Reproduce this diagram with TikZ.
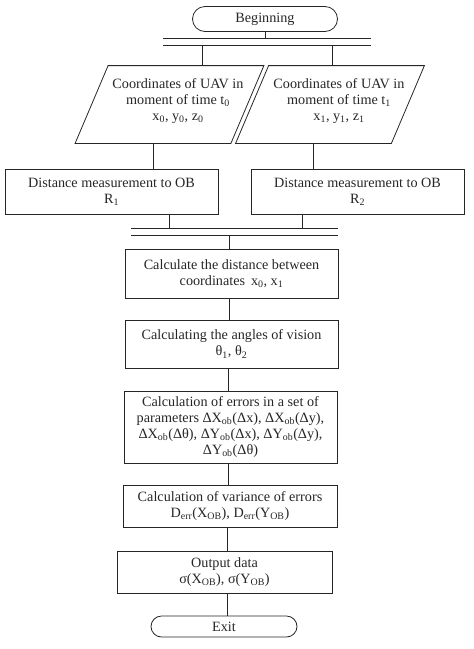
\documentclass[tikz,border=0pt]{standalone}
\usepackage{fontspec}
\setmainfont{Liberation Serif}
\usetikzlibrary{shapes.misc}
\begin{document}
\begin{tikzpicture}[x=1pt, y=-1pt,
            every node/.style={font=\fontsize{14.2}{16}\selectfont, align=center, inner sep=1pt},
            block/.style={rectangle, draw, minimum width=213pt},
            io/.style={rectangle, minimum width=155pt, minimum height=77pt},
            term/.style={rounded rectangle, draw},
            every path/.style={line width=0.8pt, black!85}
            ]
            \useasboundingbox (0,0) rectangle (474,649);
            \node[term, minimum width=147pt, minimum height=25pt] (begin) at (265,19) {Beginning};

            % first double bar
            \coordinate (b1l) at (163,38); \coordinate (b1r) at (371,38);
            \coordinate (b2l) at (163,45); \coordinate (b2r) at (371,45);
            \coordinate (d1) at (202,45); \coordinate (d2) at (332,45);

            % input parallelograms
            \node[io] (pl) at (169.5,104.5) {};
            \node[io] (pr) at (330,104.5) {};
            \foreach \p in {pl,pr}
                \draw ([xshift=16.5pt]\p.north west)--([xshift=16.5pt]\p.north east)--([xshift=-16.5pt]\p.south east)--([xshift=-16.5pt]\p.south west)--cycle;
            \node (tl) at (178,101) {Coordinates of UAV in\\moment of time t\textsubscript{0}\\x\textsubscript{0}, y\textsubscript{0}, z\textsubscript{0}};
            \node (tr) at (339,101) {Coordinates of UAV in\\moment of time t\textsubscript{1}\\x\textsubscript{1}, y\textsubscript{1}, z\textsubscript{1}};

            \node[block, minimum height=45pt] (dl) at (111.5,191.5) {Distance measurement to OB\\R\textsubscript{1}};
            \node[block, minimum height=45pt] (dr) at (357.5,191.5) {Distance measurement to OB\\R\textsubscript{2}};

            % second double bar
            \coordinate (b3l) at (131,228); \coordinate (b3r) at (338,228);
            \coordinate (b4l) at (131,235); \coordinate (b4r) at (338,235);
            \coordinate (u1) at (169,228); \coordinate (u2) at (302,228);
            \coordinate (d3) at (229,235);

            \node[block, minimum height=49pt] (c1) at (231.5,273.5) {Calculate the distance between\\coordinates\, x\textsubscript{0}, x\textsubscript{1}};
            \node[block, minimum height=48pt] (c2) at (231.5,344) {Calculating the angles of vision\\θ\textsubscript{1}, θ\textsubscript{2}};
            \node[block, minimum height=72pt] (c3) at (230.5,427) {Calculation of errors in a set of\\parameters ΔX\textsubscript{ob}(Δx), ΔX\textsubscript{ob}(Δy),\\ΔX\textsubscript{ob}(Δθ), ΔY\textsubscript{ob}(Δx), ΔY\textsubscript{ob}(Δy),\\ΔY\textsubscript{ob}(Δθ)};
            \node[block, minimum height=42pt, minimum width=214pt] (c4) at (230,506) {Calculation of variance of errors\\D\textsubscript{err}(X\textsubscript{OB}), D\textsubscript{err}(Y\textsubscript{OB})};
            \node[block, minimum height=42pt, minimum width=215pt] (c5) at (224.5,572) {Output data\\σ(X\textsubscript{OB}), σ(Y\textsubscript{OB})};
            \node[term, minimum width=148pt, minimum height=21pt] (exit) at (224,626.5) {Exit};

            \draw (b1l)--(b1r);
            \draw (b2l)--(b2r);
            \draw (begin.south)--(begin.south |- b1l);
            \draw (d1)--(d1 |- pl.north);
            \draw (d2)--(d2 |- pr.north);
            \draw ([xshift=-16.5pt]pl.south)--([xshift=-16.5pt]pl.south |- dl.north);
            \draw ([xshift=-16.5pt]pr.south)--([xshift=-16.5pt]pr.south |- dr.north);
            \draw (u1 |- dl.south)--(u1);
            \draw (u2 |- dr.south)--(u2);
            \draw (b3l)--(b3r);
            \draw (b4l)--(b4r);
            \draw (d3)--(d3 |- c1.north);
            \draw (d3 |- c1.south)--(d3 |- c2.north);
            \draw (c2.south -| 228,0)--(c3.north -| 228,0);
            \draw (c3.south -| 228,0)--(c4.north -| 228,0);
            \draw (c4.south -| 227,0)--(c5.north -| 227,0);
            \draw (c5.south -| 227,0)--(exit.north -| 227,0);
            \end{tikzpicture}
\end{document}
